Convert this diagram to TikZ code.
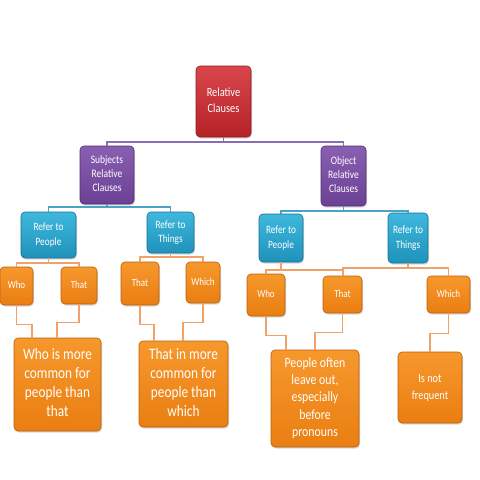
\documentclass[tikz,border=0pt]{standalone}
\usepackage{fontspec}
\setmainfont{Carlito}
\usepackage{graphicx}
\usetikzlibrary{shadows}
\newcommand{\st}[1]{\scalebox{1}[1.2]{\begin{tabular}{@{}c@{}}#1\end{tabular}}}
\definecolor{redT}{HTML}{D8454A}
\definecolor{redB}{HTML}{B52228}
\definecolor{redD}{HTML}{8E1C20}
\definecolor{purT}{HTML}{8A5FB2}
\definecolor{purB}{HTML}{6A4194}
\definecolor{purD}{HTML}{4F2E70}
\definecolor{bluT}{HTML}{3FB8DE}
\definecolor{bluB}{HTML}{1F92BA}
\definecolor{bluD}{HTML}{17708F}
\definecolor{orT}{HTML}{F6982C}
\definecolor{orB}{HTML}{EA7E12}
\definecolor{orD}{HTML}{B85E0C}
\definecolor{lnP}{HTML}{8A6DB5}
\definecolor{lnB}{HTML}{4AA3C6}
\definecolor{lnO}{HTML}{F2A268}
\tikzset{
  box/.style={rounded corners=4pt, draw, line width=0.6pt, inner sep=0pt,
    align=center, text=white,
    drop shadow={shadow xshift=1pt,shadow yshift=-1.5pt,opacity=0.3}},
  redbox/.style={box, top color=redT, bottom color=redB, draw=redD, font=\fontsize{10.4}{13}\selectfont},
  purbox/.style={box, top color=purT, bottom color=purB, draw=purD, font=\fontsize{9.5}{11.7}\selectfont},
  blubox/.style={box, top color=bluT, bottom color=bluB, draw=bluD, font=\fontsize{9.3}{11.9}\selectfont},
  orsmall/.style={box, top color=orT, bottom color=orB, draw=orD, font=\fontsize{9}{11}\selectfont},
  orbig/.style={box, top color=orT, bottom color=orB, draw=orD},
  sz/.style 2 args={minimum width=#1pt, minimum height=#2pt},
  cP/.style={draw=lnP, line width=1.4pt},
  cB/.style={draw=lnB, line width=1.4pt},
  cO/.style={draw=lnO, line width=1.4pt},
}
\begin{document}
\begin{tikzpicture}[x=1pt,y=-1pt]
\fill[white] (0,0) rectangle (480,480);
\useasboundingbox (0,0) rectangle (480,480);

\coordinate (j1) at (223.5,142);
\coordinate (j2) at (107,207);
\coordinate (j3) at (343.5,211);
\coordinate (j4) at (48.5,263);
\coordinate (j5) at (170.5,257);
\coordinate (j6) at (281,270);
\coordinate (j7) at (408,268);

\node[redbox, sz={55}{71}] (root) at (223.5,101.5) {\st{Relative\\Clauses}};
\node[purbox, sz={54}{58}] (subj) at (107,175) {\st{Subjects\\Relative\\Clauses}};
\node[purbox, sz={45}{60}] (obj) at (343.5,176) {\st{Object\\Relative\\Clauses}};
\node[blubox, sz={55}{46}] (rp1) at (48.5,235) {\st{Refer to\\People}};
\node[blubox, sz={47}{41}] (rt1) at (170.5,232.5) {\st{Refer to\\Things}};
\node[blubox, sz={44}{48}] (rp2) at (281,238) {\st{Refer to\\People}};
\node[blubox, sz={40}{50}] (rt2) at (408,238) {\st{Refer to\\Things}};
\node[orsmall, sz={33}{38}] (who1) at (16.5,286) {\st{Who}};
\node[orsmall, sz={36}{37}] (that1) at (79,285.5) {\st{That}};
\node[orsmall, sz={38}{43}] (that2) at (140,283.5) {\st{That}};
\node[orsmall, sz={34}{41}] (which2) at (203,282.5) {\st{Which}};
\node[orsmall, sz={38}{42}] (who3) at (266,295) {\st{Who}};
\node[orsmall, sz={39}{37}] (that3) at (342.5,294.5) {\st{That}};
\node[orsmall, sz={43}{37}] (which3) at (448.5,294.5) {\st{Which}};
\node[orbig, sz={87}{93}, font=\fontsize{13.3}{15.9}\selectfont] (b1) at (57.5,384.5) {\st{Who is more\\common for\\people than\\that}};
\node[orbig, sz={89}{86}, font=\fontsize{13.3}{15.9}\selectfont] (b2) at (183.5,384) {\st{That in more\\common for\\people than\\which}};
\node[orbig, sz={88}{97}, font=\fontsize{11.8}{14.4}\selectfont] (b3) at (315,398.5) {\st{People often\\leave out,\\especially\\before\\pronouns}};
\node[orbig, sz={64}{71}, font=\fontsize{10.3}{13.9}\selectfont] (b4) at (430,387.5) {\st{Is not\\frequent}};

\draw[cP] (root.south) -- (j1);
\draw[cP] (subj.north) |- (j1) -| (obj.north);
\draw[cB] (subj.south) -- (j2);
\draw[cB] (rp1.north) |- (j2) -| (rt1.north);
\draw[cB] (obj.south) -- (j3);
\draw[cB] (rp2.north) |- (j3) -| (rt2.north);
\draw[cO] (rp1.south) -- (j4);
\draw[cO] (who1.north) |- (j4) -| (that1.north);
\draw[cO] (rt1.south) -- (j5);
\draw[cO] (that2.north) |- (j5) -| (which2.north);
\draw[cO] (rp2.south) -- (j6);
\draw[cO] (who3.north) |- (j6) -| (that3.north);
\draw[cO] (rt2.south) -- (j7);
\draw[cO] ([xshift=0.5pt]that3.north) |- (j7) -| (which3.north);
\draw[cO] (who1.south) -- ++(0,19) -| ([xshift=-25.5pt]b1.north);
\draw[cO] (that1.south) -- ++(0,18) -| ([xshift=-0.5pt]b1.north);
\draw[cO] (that2.south) -- ++(0,19) -| ([xshift=-29.5pt]b2.north);
\draw[cO] (which2.south) -- ++(0,19) -| ([xshift=-0.5pt]b2.north);
\draw[cO] (who3.south) -- ++(0,19) -| ([xshift=-29pt]b3.north);
\draw[cO] (that3.south) -- ++(0,19) -| (b3.north);
\draw[cO] (which3.south) -- ++(0,20) -| (b4.north);
\end{tikzpicture}
\end{document}
